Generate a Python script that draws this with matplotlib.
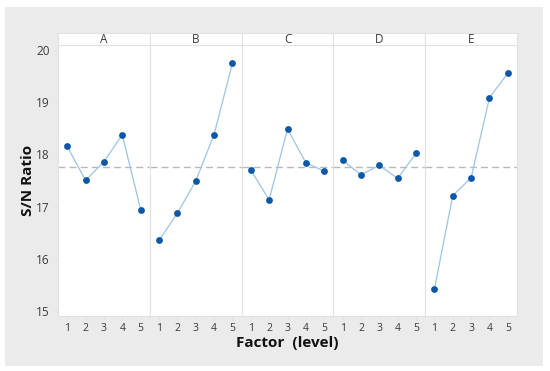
import numpy as np
import matplotlib.pyplot as plt
from matplotlib.patches import Rectangle

plt.rcParams["font.family"] = ["Open Sans", "DejaVu Sans"]

# ── Data (main effects for S/N ratio) ────────────────────────────────────────
factors = ["A", "B", "C", "D", "E"]
levels = [1, 2, 3, 4, 5]
sn_A = [18.16, 17.50, 17.86, 18.38, 16.94]
sn_B = [16.35, 16.87, 17.49, 18.38, 19.75]
sn_C = [17.70, 17.13, 18.49, 17.84, 17.68]
sn_D = [17.89, 17.61, 17.79, 17.54, 18.02]
sn_E = [15.41, 17.21, 17.55, 19.09, 19.56]
y_ticks = [15, 16, 17, 18, 19, 20]

series = [sn_A, sn_B, sn_C, sn_D, sn_E]
grand_mean = np.mean(np.concatenate(series))

# ── Colours ──────────────────────────────────────────────────────────────────
C_BG = "#EBEBEB"
C_LINE = "#9DC3E6"
C_MARK = "#0B57A8"
C_GRID = "#E2E2E2"
C_MEAN = "#B8B8B8"
C_TEXT = "#3A3A3A"

W, H = 550, 371
fig = plt.figure(figsize=(W / 100, H / 100), dpi=100)
fig.patch.set_facecolor("white")
fig.patches.append(Rectangle((5 / W, 1 - 366 / H), 538 / W, 359 / H,
                             transform=fig.transFigure, facecolor=C_BG,
                             edgecolor="none", zorder=-10))

left, right = 58 / W, 517 / W
bottom, top = 1 - 316 / H, 1 - 45 / H
strip_top = 1 - 33 / H
pw = (right - left) / len(factors)

for i, (name, vals) in enumerate(zip(factors, series)):
    x0 = left + i * pw
    ax = fig.add_axes([x0, bottom, pw, top - bottom])
    ax.set_facecolor("white")
    ax.axhline(grand_mean, color=C_MEAN, linestyle=(0, (5, 3)), linewidth=1.0, zorder=1)
    ax.plot(levels, vals, color=C_LINE, linewidth=0.9, zorder=2)
    ax.scatter(levels, vals, s=24, color=C_MARK, zorder=3, linewidths=0)
    ax.set_xlim(0.5, 5.5)
    ax.set_ylim(14.9, 20.1)
    ax.set_xticks(levels)
    ax.set_xticklabels([str(l) for l in levels], fontsize=7.5, color=C_TEXT)
    ax.tick_params(axis="x", length=3, color=C_GRID, pad=2)
    if i == 0:
        ax.set_yticks(y_ticks)
        ax.set_yticklabels([str(t) for t in y_ticks], fontsize=8.5, color=C_TEXT)
        ax.tick_params(axis="y", length=3, color=C_GRID, pad=3)
    else:
        ax.set_yticks([])
    for sp in ax.spines.values():
        sp.set_color(C_GRID)
        sp.set_linewidth(0.8)

    # strip header
    sax = fig.add_axes([x0, top, pw, strip_top - top])
    sax.set_facecolor("white")
    sax.set_xticks([])
    sax.set_yticks([])
    for sp in sax.spines.values():
        sp.set_color(C_GRID)
        sp.set_linewidth(0.8)
    sax.text(0.5, 0.45, name, ha="center", va="center", fontsize=8.5,
             color=C_TEXT, transform=sax.transAxes)

fig.text(28 / W, (bottom + top) / 2, "S/N Ratio", rotation=90, ha="center",
         va="center", fontsize=11, fontweight="bold", color="#111111")
fig.text((left + right) / 2, 1 - 343 / H, "Factor  (level)", ha="center",
         va="center", fontsize=11, fontweight="bold", color="#111111")

fig.savefig("out.png", dpi=100)
